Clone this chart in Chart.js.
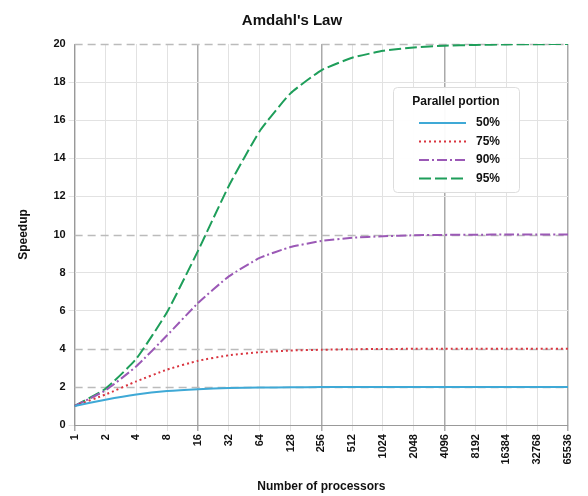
<!DOCTYPE html>
<html><head><meta charset="utf-8">
<script src="https://cdn.jsdelivr.net/npm/chart.js@4"></script>
<style>html,body{margin:0;background:#fff}#w{width:588px;height:496px}</style>
</head><body><div id="w"><canvas id="c"></canvas></div>
<script>
const processors = ['1','2','4','8','16','32','64','128','256','512','1024','2048','4096','8192','16384','32768','65536'];
const s50 = [1,1.33,1.6,1.78,1.88,1.94,1.97,1.98,1.99,2,2,2,2,2,2,2,2];
const s75 = [1,1.6,2.29,2.91,3.37,3.66,3.82,3.91,3.95,3.98,3.99,4,4,4,4,4,4];
const s90 = [1,1.82,3.08,4.71,6.4,7.8,8.77,9.34,9.66,9.83,9.91,9.96,9.98,9.99,10,10,10];
const s95 = [1,1.9,3.48,5.93,9.14,12.55,15.42,17.41,18.62,19.28,19.64,19.82,19.91,19.95,19.98,19.99,20];
const dashedY = [2,4,10,20];
const F = 'Liberation Sans, Arial, sans-serif';
const extras = {
  id:'extras',
  beforeDatasetsDraw(ch){
    const c=ch.ctx,a=ch.chartArea,y=ch.scales.y;
    c.save();c.strokeStyle='#bbbbbb';c.lineWidth=1.5;c.setLineDash([8,5]);
    dashedY.forEach(v=>{const p=Math.round(y.getPixelForValue(v))+0.5;c.beginPath();c.moveTo(a.left,p);c.lineTo(a.right,p);c.stroke();});
    c.restore();
  },
  afterDatasetsDraw(ch){
    const c=ch.ctx,x=393,yy=87,w=126,h=105;
    c.save();c.fillStyle='rgba(255,255,255,0.95)';c.strokeStyle='#dddddd';c.lineWidth=1;
    c.beginPath();c.roundRect(x+0.5,yy+0.5,w,h,4);c.fill();c.stroke();
    c.fillStyle='#111';c.font='bold 12px '+F;c.textAlign='center';c.textBaseline='middle';
    c.fillText('Parallel portion',x+w/2,yy+15);
    ch.data.datasets.forEach((d,i)=>{
      const ly=yy+36+i*18.5;
      c.strokeStyle=d.borderColor;c.lineWidth=d.borderWidth;c.setLineDash(d.borderDash||[]);
      c.beginPath();c.moveTo(x+26,ly);c.lineTo(x+73,ly);c.stroke();
      c.setLineDash([]);c.fillStyle='#111';c.textAlign='left';c.font='bold 12px '+F;
      c.fillText(d.label,x+83,ly);
    });
    c.restore();
  }
};
new Chart(document.getElementById('c'),{
  type:'line',
  data:{labels:processors,datasets:[
    {label:'50%',data:s50,borderColor:'#3fa9d6',borderWidth:2},
    {label:'75%',data:s75,borderColor:'#d9343f',borderWidth:2,borderDash:[2,3]},
    {label:'90%',data:s90,borderColor:'#9b59b6',borderWidth:2,borderDash:[10,3,2,3]},
    {label:'95%',data:s95,borderColor:'#1e9e5a',borderWidth:2,borderDash:[12,4]}
  ]},
  options:{
    responsive:true,maintainAspectRatio:false,animation:false,
    layout:{padding:{left:16,right:20,top:10,bottom:2}},
    elements:{point:{radius:0},line:{tension:0.15}},
    plugins:{legend:{display:false},tooltip:{enabled:false},
      title:{display:true,text:"Amdahl's Law",color:'#111',font:{family:F,size:15,weight:'bold'},padding:{top:2,bottom:14}}},
    scales:{
      x:{grid:{color:(ctx)=>ctx.index%4===0?'#aaaaaa':'#e2e2e2',lineWidth:(ctx)=>ctx.index%4===0?1.5:1,drawTicks:true,tickLength:6},
        border:{color:'#999'},
        ticks:{color:'#111',font:{family:F,size:11,weight:'bold'},maxRotation:90,minRotation:90,autoSkip:false},
        title:{display:true,text:'Number of processors',color:'#111',font:{family:F,size:12,weight:'bold'},padding:{top:12,bottom:0}}},
      y:{min:0,max:20,grid:{color:(ctx)=>dashedY.includes(ctx.tick.value)&&ctx.tick.value!==0?'rgba(0,0,0,0)':'#e2e2e2',tickLength:6},
        border:{color:'#999'},
        ticks:{stepSize:2,color:'#111',font:{family:F,size:11,weight:'bold'}},
        title:{display:true,text:'Speedup',color:'#111',font:{family:F,size:12,weight:'bold'},padding:{top:0,bottom:20}}}
    }
  },
  plugins:[extras]
});
</script></body></html>
